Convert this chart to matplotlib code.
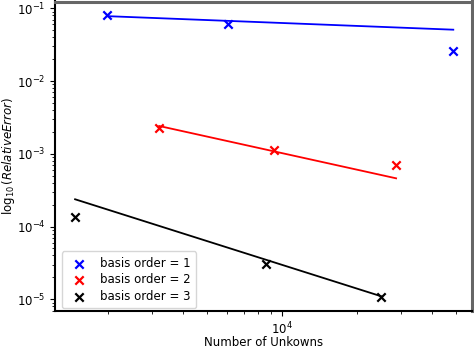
import matplotlib
matplotlib.use("Agg")
import matplotlib.pyplot as plt

# data
n1 = [1980, 6070, 48700]
e1 = [0.081, 0.060, 0.0259]
fit1_n = [1980, 48700]
fit1_e = [0.078, 0.0508]

n2 = [3210, 9260, 28700]
e2 = [0.00229, 0.00113, 0.000695]
fit2_n = [3210, 28700]
fit2_e = [0.00241, 0.00046]

n3 = [1475, 8630, 25000]
e3 = [0.000134, 3.05e-5, 1.09e-5]
fit3_n = [1475, 25000]
fit3_e = [2.37e-4, 1.1e-5]

labels = ["basis order = 1", "basis order = 2", "basis order = 3"]
colors = ["blue", "red", "black"]

plt.rcParams['font.size'] = 8.5
fig = plt.figure(figsize=(4.74, 3.48), dpi=100)
ax = fig.add_axes([55/474, 1-311/348, (472-55)/474, (311-1.5)/348])

for n, e, fn, fe, lab, c in zip([n1, n2, n3], [e1, e2, e3],
                                [fit1_n, fit2_n, fit3_n], [fit1_e, fit2_e, fit3_e],
                                labels, colors):
    ax.scatter(n, e, marker='x', color=c, s=36, linewidths=1.6, label=lab, zorder=3)
    ax.plot(fn, fe, color=c, lw=1.3)

ax.set_xscale('log')
ax.set_yscale('log')
ax.set_xlim(1225, 57900)
ax.set_ylim(6.9e-6, 0.124)
ax.set_xlabel("Number of Unkowns", labelpad=-1)
ax.set_ylabel(r"$\log_{10}(RelativeError)$", labelpad=0)
ax.legend(loc='lower left', handletextpad=0.8, borderpad=0.45, labelspacing=0.3,
          borderaxespad=0, bbox_to_anchor=(62/474, (348-308)/348),
          bbox_transform=fig.transFigure)

for s in ['top', 'right']:
    ax.spines[s].set_color('#666666')
    ax.spines[s].set_linewidth(2.2)
for s in ['left', 'bottom']:
    ax.spines[s].set_linewidth(1.5)

fig.savefig("out.png", dpi=100)
